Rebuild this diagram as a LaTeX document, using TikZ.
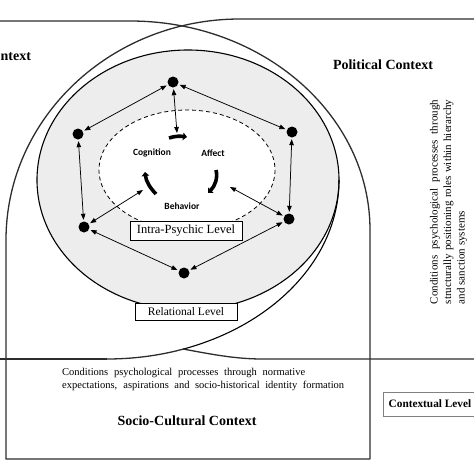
\documentclass[tikz,border=0pt]{standalone}
\usepackage{fontspec}
\setmainfont{Liberation Serif}
\newfontfamily\carlitofont{Carlito}
\usetikzlibrary{arrows.meta}
\definecolor{ringgray}{RGB}{237,237,237}
\definecolor{ctxline}{RGB}{45,45,45}
\tikzset{
  ctx/.style={draw=ctxline, line width=1.3pt},
  dot/.style={circle, fill=black, minimum size=11pt, inner sep=0pt},
  dbl/.style={{Triangle[length=6pt,width=4.5pt]}-{Triangle[length=6pt,width=4.5pt]}, line width=0.75pt, shorten >=1.5pt, shorten <=1.5pt},
  cyc/.style={-{Triangle[length=4pt,width=7.5pt]}, line width=3.6pt},
  lvlbox/.style={draw, fill=white, line width=0.8pt, inner sep=0pt},
  lbl/.style={font=\carlitofont\bfseries\fontsize{9.5}{11}\selectfont, inner sep=0pt},
  ctxtitle/.style={font=\bfseries\fontsize{14}{16}\selectfont, inner sep=0pt},
}
\begin{document}
\begin{tikzpicture}[x=1pt,y=-1pt]
\useasboundingbox (0,0) rectangle (474,474);
\clip (0,0) rectangle (474,474);

% relational level (grey ellipse) and intra-psychic (dashed ellipse)
\draw[line width=1.1pt, fill=ringgray] (188,180) ellipse [x radius=151, y radius=130];
\draw[dashed, dash pattern=on 4pt off 3pt, line width=0.8pt, fill=white] (187,170) ellipse [x radius=88, y radius=60];

% contexts
\draw[ctx] (0,21) -- (130,21) .. controls (262.6,21) and (370,114.6) .. (370,230) -- (370,459);
\draw[ctx] (474,19) -- (240,19) .. controls (110.8,19) and (6,118) .. (6,240) -- (6,459) -- (370,459);
\begin{scope}
  \clip (183,180) rectangle (350,365);
  \draw[line width=1.1pt] (107,180) ellipse [x radius=232, y radius=179];
\end{scope}
\begin{scope}
  \clip (107,300) rectangle (183.5,365);
  \draw[ctx] (107,180) ellipse [x radius=232, y radius=179];
\end{scope}
\draw[ctx] (0,359) -- (107,359);
\draw[ctx] (183,349) .. controls (210,354) and (235,359) .. (262,359) -- (474,359);

% context titles
\node[ctxtitle, anchor=west] (leftctx) at (0.5,57) {ntext};
\node[ctxtitle] (polctx) at (383,65) {Political Context};
\node[ctxtitle, anchor=base] (socctx) at (187,425) {Socio-Cultural Context};

% context descriptions
\node[anchor=base west, inner sep=0pt, font=\fontsize{10.5}{12.5}\selectfont] (soc1) at (62,375) {\makebox[243pt][s]{Conditions psychological processes through normative}};
\node[anchor=base west, inner sep=0pt, font=\fontsize{10.5}{12.5}\selectfont] (soc2) at (62,388) {\makebox[282pt][s]{expectations, aspirations and socio-historical identity formation}};
\node[rotate=90, align=left, inner sep=0pt, font=\fontsize{11}{13.5}\selectfont] (poltext) at (448.5,202) {\makebox[204pt][s]{Conditions psychological processes through}\\\makebox[204pt][s]{structurally positioning roles within hierarchy}\\and sanction systems};

% contextual level box
\draw[draw=gray, line width=0.9pt, fill=white] (383,392) rectangle (490,416);
\node[anchor=west, inner sep=0pt, font=\bfseries\fontsize{11.3}{13}\selectfont] (ctxlvl) at (388.5,404) {Contextual Level};

% dots
\node[dot] (T) at (173,82) {};
\node[dot] (UL) at (78,134) {};
\node[dot] (LL) at (84,227) {};
\node[dot] (B) at (184,273) {};
\node[dot] (LR) at (289,219) {};
\node[dot] (UR) at (292,132) {};
\coordinate (c1) at (177,133);
\coordinate (c2) at (143,190);
\coordinate (c3) at (230,187);

\draw[dbl] (T) -- (UL);
\draw[dbl] (T) -- (UR);
\draw[dbl] (UL) -- (LL);
\draw[dbl] (UR) -- (LR);
\draw[dbl] (LL) -- (B);
\draw[dbl] (LR) -- (B);
\draw[dbl, shorten >=0pt] (T) -- (c1);
\draw[dbl, shorten >=0pt] (LL) -- (c2);
\draw[dbl, shorten >=0pt] (LR) -- (c3);

% intra-psychic cycle
\coordinate (a1) at (169,138);
\coordinate (a2) at (187,137);
\coordinate (b1) at (216,170);
\coordinate (b2) at (208,193);
\coordinate (d1) at (156,194);
\coordinate (d2) at (145,172);
\draw[cyc] (a1) .. controls (175,136) and (180,136) .. (a2);
\draw[cyc] (b1) .. controls (218,178) and (215,186) .. (b2);
\draw[cyc] (d1) .. controls (150,188) and (146,181) .. (d2);

\node[lbl] (cog) at (152,153) {Cognition};
\node[lbl] (aff) at (213,153) {Affect};
\node[lbl] (beh) at (182,206) {Behavior};

% level boxes
\node[lvlbox, minimum width=112pt, minimum height=19pt, font=\fontsize{12.5}{14}\selectfont] (intra) at (186,230.5) {Intra-Psychic Level};
\node[lvlbox, minimum width=102pt, minimum height=17pt, font=\fontsize{11.5}{13}\selectfont] (rel) at (186,311.5) {Relational Level};
\end{tikzpicture}
\end{document}
